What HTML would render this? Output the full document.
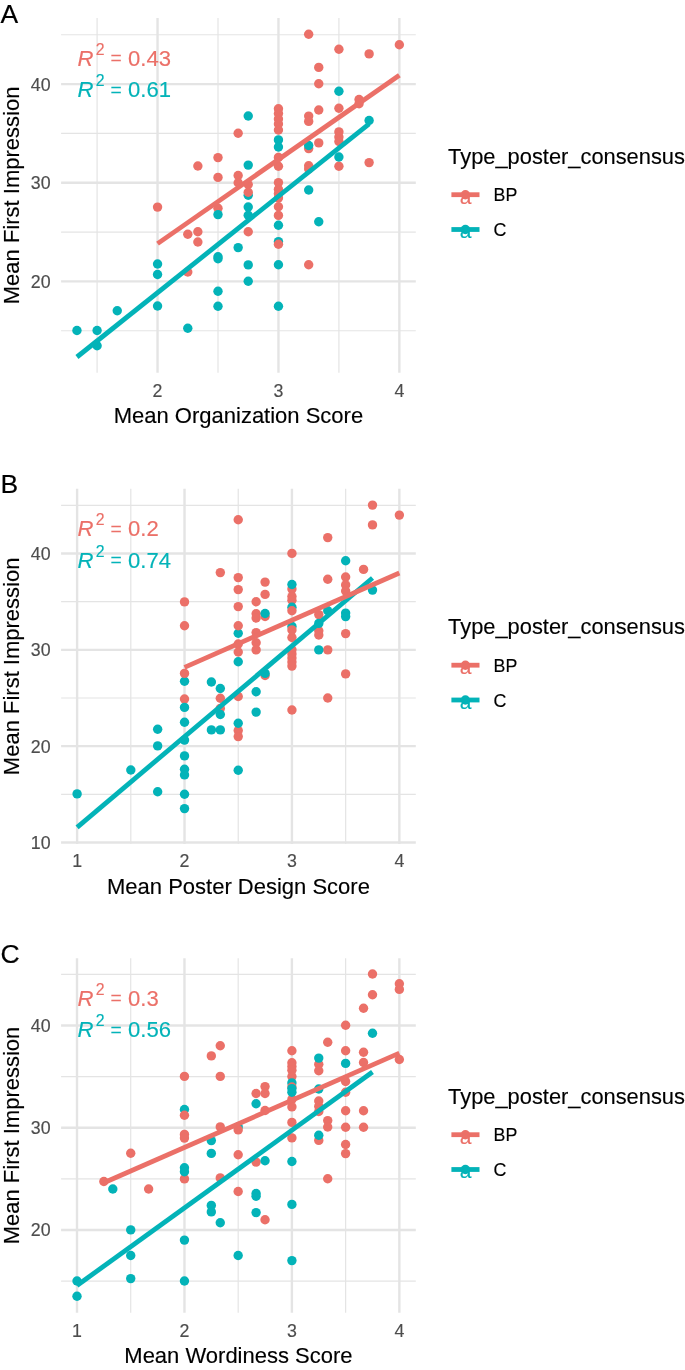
<!DOCTYPE html>
<html><head><meta charset="utf-8"><title>Mean First Impression plots</title>
<style>
html,body{margin:0;padding:0;background:#fff;}
body{width:685px;height:1370px;overflow:hidden;}
svg{display:block;}
text{font-family:'Liberation Sans', Arial, sans-serif;}
</style></head><body>
<svg width="685" height="1370" viewBox="0 0 685 1370">
<rect x="0" y="0" width="685" height="1370" fill="#ffffff"/>
<g><line x1="61.1" y1="330.73" x2="415.8" y2="330.73" stroke="#E4E4E4" stroke-width="1.2"/><line x1="61.1" y1="232.07" x2="415.8" y2="232.07" stroke="#E4E4E4" stroke-width="1.2"/><line x1="61.1" y1="133.43" x2="415.8" y2="133.43" stroke="#E4E4E4" stroke-width="1.2"/><line x1="61.1" y1="34.77" x2="415.8" y2="34.77" stroke="#E4E4E4" stroke-width="1.2"/><line x1="97.1" y1="18.1" x2="97.1" y2="372.7" stroke="#E4E4E4" stroke-width="1.2"/><line x1="218" y1="18.1" x2="218" y2="372.7" stroke="#E4E4E4" stroke-width="1.2"/><line x1="338.9" y1="18.1" x2="338.9" y2="372.7" stroke="#E4E4E4" stroke-width="1.2"/><line x1="61.1" y1="281.4" x2="415.8" y2="281.4" stroke="#E4E4E4" stroke-width="2.4"/><line x1="61.1" y1="182.75" x2="415.8" y2="182.75" stroke="#E4E4E4" stroke-width="2.4"/><line x1="61.1" y1="84.1" x2="415.8" y2="84.1" stroke="#E4E4E4" stroke-width="2.4"/><line x1="157.55" y1="18.1" x2="157.55" y2="372.7" stroke="#E4E4E4" stroke-width="2.4"/><line x1="278.45" y1="18.1" x2="278.45" y2="372.7" stroke="#E4E4E4" stroke-width="2.4"/><line x1="399.35" y1="18.1" x2="399.35" y2="372.7" stroke="#E4E4E4" stroke-width="2.4"/></g>
<g><circle cx="157.55" cy="207.1" r="4.7" fill="#EB7068"/><circle cx="187.78" cy="234.2" r="4.7" fill="#EB7068"/><circle cx="187.78" cy="272" r="4.7" fill="#EB7068"/><circle cx="197.85" cy="166" r="4.7" fill="#EB7068"/><circle cx="197.85" cy="231.7" r="4.7" fill="#EB7068"/><circle cx="197.85" cy="242" r="4.7" fill="#EB7068"/><circle cx="218" cy="157.6" r="4.7" fill="#EB7068"/><circle cx="218" cy="177.4" r="4.7" fill="#EB7068"/><circle cx="218" cy="208.2" r="4.7" fill="#EB7068"/><circle cx="238.15" cy="133.2" r="4.7" fill="#EB7068"/><circle cx="238.15" cy="175.5" r="4.7" fill="#EB7068"/><circle cx="238.15" cy="182.8" r="4.7" fill="#EB7068"/><circle cx="248.23" cy="184.5" r="4.7" fill="#EB7068"/><circle cx="248.23" cy="231.7" r="4.7" fill="#EB7068"/><circle cx="278.45" cy="108.7" r="4.7" fill="#EB7068"/><circle cx="278.45" cy="113.6" r="4.7" fill="#EB7068"/><circle cx="278.45" cy="119.1" r="4.7" fill="#EB7068"/><circle cx="278.45" cy="124" r="4.7" fill="#EB7068"/><circle cx="278.45" cy="130" r="4.7" fill="#EB7068"/><circle cx="278.45" cy="157.4" r="4.7" fill="#EB7068"/><circle cx="278.45" cy="166.2" r="4.7" fill="#EB7068"/><circle cx="278.45" cy="182.6" r="4.7" fill="#EB7068"/><circle cx="278.45" cy="189.2" r="4.7" fill="#EB7068"/><circle cx="278.45" cy="193.5" r="4.7" fill="#EB7068"/><circle cx="278.45" cy="197.9" r="4.7" fill="#EB7068"/><circle cx="278.45" cy="206.7" r="4.7" fill="#EB7068"/><circle cx="278.45" cy="215.4" r="4.7" fill="#EB7068"/><circle cx="308.68" cy="34.3" r="4.7" fill="#EB7068"/><circle cx="308.68" cy="116.1" r="4.7" fill="#EB7068"/><circle cx="308.68" cy="121.4" r="4.7" fill="#EB7068"/><circle cx="308.68" cy="148.6" r="4.7" fill="#EB7068"/><circle cx="308.68" cy="165.8" r="4.7" fill="#EB7068"/><circle cx="308.68" cy="169" r="4.7" fill="#EB7068"/><circle cx="308.68" cy="264.8" r="4.7" fill="#EB7068"/><circle cx="318.75" cy="67.4" r="4.7" fill="#EB7068"/><circle cx="318.75" cy="83.7" r="4.7" fill="#EB7068"/><circle cx="318.75" cy="110" r="4.7" fill="#EB7068"/><circle cx="318.75" cy="142.9" r="4.7" fill="#EB7068"/><circle cx="338.9" cy="49.2" r="4.7" fill="#EB7068"/><circle cx="338.9" cy="108.2" r="4.7" fill="#EB7068"/><circle cx="338.9" cy="131.9" r="4.7" fill="#EB7068"/><circle cx="338.9" cy="137.1" r="4.7" fill="#EB7068"/><circle cx="338.9" cy="141.5" r="4.7" fill="#EB7068"/><circle cx="338.9" cy="166.3" r="4.7" fill="#EB7068"/><circle cx="359.05" cy="99.5" r="4.7" fill="#EB7068"/><circle cx="359.05" cy="103.8" r="4.7" fill="#EB7068"/><circle cx="369.12" cy="53.9" r="4.7" fill="#EB7068"/><circle cx="369.12" cy="162.6" r="4.7" fill="#EB7068"/><circle cx="399.35" cy="44.7" r="4.7" fill="#EB7068"/><circle cx="76.95" cy="330.5" r="4.7" fill="#03B3B8"/><circle cx="97.1" cy="330.5" r="4.7" fill="#03B3B8"/><circle cx="97.1" cy="345.7" r="4.7" fill="#03B3B8"/><circle cx="117.25" cy="310.7" r="4.7" fill="#03B3B8"/><circle cx="157.55" cy="264" r="4.7" fill="#03B3B8"/><circle cx="157.55" cy="274.5" r="4.7" fill="#03B3B8"/><circle cx="157.55" cy="306" r="4.7" fill="#03B3B8"/><circle cx="187.78" cy="328.3" r="4.7" fill="#03B3B8"/><circle cx="218" cy="214.6" r="4.7" fill="#03B3B8"/><circle cx="218" cy="256.8" r="4.7" fill="#03B3B8"/><circle cx="218" cy="258.8" r="4.7" fill="#03B3B8"/><circle cx="218" cy="291.2" r="4.7" fill="#03B3B8"/><circle cx="218" cy="306.2" r="4.7" fill="#03B3B8"/><circle cx="238.15" cy="247.6" r="4.7" fill="#03B3B8"/><circle cx="248.23" cy="116" r="4.7" fill="#03B3B8"/><circle cx="248.23" cy="165.1" r="4.7" fill="#03B3B8"/><circle cx="248.23" cy="195.2" r="4.7" fill="#03B3B8"/><circle cx="248.23" cy="207" r="4.7" fill="#03B3B8"/><circle cx="248.23" cy="215.3" r="4.7" fill="#03B3B8"/><circle cx="248.23" cy="264.9" r="4.7" fill="#03B3B8"/><circle cx="248.23" cy="281.3" r="4.7" fill="#03B3B8"/><circle cx="278.45" cy="139.9" r="4.7" fill="#03B3B8"/><circle cx="278.45" cy="147" r="4.7" fill="#03B3B8"/><circle cx="278.45" cy="225.3" r="4.7" fill="#03B3B8"/><circle cx="278.45" cy="241.6" r="4.7" fill="#03B3B8"/><circle cx="278.45" cy="264.8" r="4.7" fill="#03B3B8"/><circle cx="278.45" cy="306.2" r="4.7" fill="#03B3B8"/><circle cx="308.68" cy="145.5" r="4.7" fill="#03B3B8"/><circle cx="308.68" cy="190" r="4.7" fill="#03B3B8"/><circle cx="318.75" cy="221.8" r="4.7" fill="#03B3B8"/><circle cx="338.9" cy="91.2" r="4.7" fill="#03B3B8"/><circle cx="338.9" cy="157" r="4.7" fill="#03B3B8"/><circle cx="369.12" cy="120.5" r="4.7" fill="#03B3B8"/><circle cx="278.45" cy="244.3" r="4.7" fill="#EB7068"/><circle cx="248.23" cy="192.3" r="4.7" fill="#EB7068"/></g>
<line x1="76.95" y1="357" x2="369.12" y2="123.9" stroke="#03B3B8" stroke-width="4.8" stroke-linecap="butt"/>
<line x1="157.55" y1="243.6" x2="399.35" y2="75.3" stroke="#EB7068" stroke-width="4.8" stroke-linecap="butt"/>
<text y="65.5" fill="#EB7068" font-size="22.1" stroke="#EB7068" stroke-width="0.15"><tspan x="77.6" font-style="italic">R</tspan><tspan x="95.7" y="54.8" font-size="15.8">2</tspan><tspan x="110.5" y="64.1" font-size="19.2">=</tspan><tspan x="128.0" y="65.5">0.43</tspan></text>
<text y="97.1" fill="#03B3B8" font-size="22.1" stroke="#03B3B8" stroke-width="0.15"><tspan x="77.6" font-style="italic">R</tspan><tspan x="95.7" y="86.4" font-size="15.8">2</tspan><tspan x="110.5" y="95.7" font-size="19.2">=</tspan><tspan x="128.0" y="97.1">0.61</tspan></text>
<text x="50.6" y="287.8" text-anchor="end" font-size="17.8" fill="#4D4D4D" stroke="#4D4D4D" stroke-width="0.15">20</text><text x="50.6" y="189.15" text-anchor="end" font-size="17.8" fill="#4D4D4D" stroke="#4D4D4D" stroke-width="0.15">30</text><text x="50.6" y="90.5" text-anchor="end" font-size="17.8" fill="#4D4D4D" stroke="#4D4D4D" stroke-width="0.15">40</text><text x="157.55" y="396.8" text-anchor="middle" font-size="17.8" fill="#4D4D4D" stroke="#4D4D4D" stroke-width="0.15">2</text><text x="278.45" y="396.8" text-anchor="middle" font-size="17.8" fill="#4D4D4D" stroke="#4D4D4D" stroke-width="0.15">3</text><text x="399.35" y="396.8" text-anchor="middle" font-size="17.8" fill="#4D4D4D" stroke="#4D4D4D" stroke-width="0.15">4</text>
<text x="238.45" y="423.1" text-anchor="middle" font-size="22.0" fill="#000" stroke="#000" stroke-width="0.15">Mean Organization Score</text>
<text transform="translate(19.05 195.4) rotate(-90)" text-anchor="middle" font-size="22.0" fill="#000" stroke="#000" stroke-width="0.15">Mean First Impression</text>
<text x="0.5" y="22.6" font-size="26.5" fill="#000" stroke="#000" stroke-width="0.15">A</text>
<text x="448.1" y="163.5" font-size="21.85" fill="#000" stroke="#000" stroke-width="0.15">Type_poster_consensus</text>
<line x1="451.4" y1="194.7" x2="479.5" y2="194.7" stroke="#EB7068" stroke-width="4.8"/><circle cx="465.4" cy="194.7" r="4.7" fill="#EB7068"/><text x="465.6" y="203.5" text-anchor="middle" font-size="21" fill="#EB7068" stroke="#EB7068" stroke-width="0.15">a</text><text x="493.6" y="201.2" font-size="17.8" fill="#000" stroke="#000" stroke-width="0.15">BP</text>
<line x1="451.4" y1="229.5" x2="479.5" y2="229.5" stroke="#03B3B8" stroke-width="4.8"/><circle cx="465.4" cy="229.5" r="4.7" fill="#03B3B8"/><text x="465.6" y="238.3" text-anchor="middle" font-size="21" fill="#03B3B8" stroke="#03B3B8" stroke-width="0.15">a</text><text x="493.6" y="236" font-size="17.8" fill="#000" stroke="#000" stroke-width="0.15">C</text>
<g><line x1="61.1" y1="794.33" x2="415.8" y2="794.33" stroke="#E4E4E4" stroke-width="1.2"/><line x1="61.1" y1="698" x2="415.8" y2="698" stroke="#E4E4E4" stroke-width="1.2"/><line x1="61.1" y1="601.66" x2="415.8" y2="601.66" stroke="#E4E4E4" stroke-width="1.2"/><line x1="61.1" y1="505.34" x2="415.8" y2="505.34" stroke="#E4E4E4" stroke-width="1.2"/><line x1="130.81" y1="488.8" x2="130.81" y2="843.9" stroke="#E4E4E4" stroke-width="1.2"/><line x1="238.23" y1="488.8" x2="238.23" y2="843.9" stroke="#E4E4E4" stroke-width="1.2"/><line x1="345.65" y1="488.8" x2="345.65" y2="843.9" stroke="#E4E4E4" stroke-width="1.2"/><line x1="61.1" y1="842.49" x2="415.8" y2="842.49" stroke="#E4E4E4" stroke-width="2.4"/><line x1="61.1" y1="746.16" x2="415.8" y2="746.16" stroke="#E4E4E4" stroke-width="2.4"/><line x1="61.1" y1="649.83" x2="415.8" y2="649.83" stroke="#E4E4E4" stroke-width="2.4"/><line x1="61.1" y1="553.5" x2="415.8" y2="553.5" stroke="#E4E4E4" stroke-width="2.4"/><line x1="77.1" y1="488.8" x2="77.1" y2="843.9" stroke="#E4E4E4" stroke-width="2.4"/><line x1="184.52" y1="488.8" x2="184.52" y2="843.9" stroke="#E4E4E4" stroke-width="2.4"/><line x1="291.94" y1="488.8" x2="291.94" y2="843.9" stroke="#E4E4E4" stroke-width="2.4"/><line x1="399.36" y1="488.8" x2="399.36" y2="843.9" stroke="#E4E4E4" stroke-width="2.4"/></g>
<g><circle cx="184.52" cy="601.9" r="4.7" fill="#EB7068"/><circle cx="184.52" cy="625.8" r="4.7" fill="#EB7068"/><circle cx="184.52" cy="699" r="4.7" fill="#EB7068"/><circle cx="220.32" cy="572.6" r="4.7" fill="#EB7068"/><circle cx="220.32" cy="698.2" r="4.7" fill="#EB7068"/><circle cx="220.32" cy="708.4" r="4.7" fill="#EB7068"/><circle cx="238.23" cy="519.7" r="4.7" fill="#EB7068"/><circle cx="238.23" cy="577.6" r="4.7" fill="#EB7068"/><circle cx="238.23" cy="589.6" r="4.7" fill="#EB7068"/><circle cx="238.23" cy="606.6" r="4.7" fill="#EB7068"/><circle cx="238.23" cy="644" r="4.7" fill="#EB7068"/><circle cx="238.23" cy="652" r="4.7" fill="#EB7068"/><circle cx="238.23" cy="696.5" r="4.7" fill="#EB7068"/><circle cx="238.23" cy="730.5" r="4.7" fill="#EB7068"/><circle cx="238.23" cy="736.6" r="4.7" fill="#EB7068"/><circle cx="256.14" cy="601.7" r="4.7" fill="#EB7068"/><circle cx="256.14" cy="613.7" r="4.7" fill="#EB7068"/><circle cx="256.14" cy="618" r="4.7" fill="#EB7068"/><circle cx="256.14" cy="632.6" r="4.7" fill="#EB7068"/><circle cx="256.14" cy="642.8" r="4.7" fill="#EB7068"/><circle cx="256.14" cy="649.9" r="4.7" fill="#EB7068"/><circle cx="265.09" cy="582.1" r="4.7" fill="#EB7068"/><circle cx="265.09" cy="594.4" r="4.7" fill="#EB7068"/><circle cx="265.09" cy="616.5" r="4.7" fill="#EB7068"/><circle cx="265.09" cy="675.5" r="4.7" fill="#EB7068"/><circle cx="291.94" cy="553.4" r="4.7" fill="#EB7068"/><circle cx="291.94" cy="589.1" r="4.7" fill="#EB7068"/><circle cx="291.94" cy="596.6" r="4.7" fill="#EB7068"/><circle cx="291.94" cy="600.3" r="4.7" fill="#EB7068"/><circle cx="291.94" cy="637.5" r="4.7" fill="#EB7068"/><circle cx="291.94" cy="649.8" r="4.7" fill="#EB7068"/><circle cx="291.94" cy="653.9" r="4.7" fill="#EB7068"/><circle cx="291.94" cy="658" r="4.7" fill="#EB7068"/><circle cx="291.94" cy="662" r="4.7" fill="#EB7068"/><circle cx="291.94" cy="666.1" r="4.7" fill="#EB7068"/><circle cx="291.94" cy="710" r="4.7" fill="#EB7068"/><circle cx="318.79" cy="614.6" r="4.7" fill="#EB7068"/><circle cx="318.79" cy="630.7" r="4.7" fill="#EB7068"/><circle cx="318.79" cy="635" r="4.7" fill="#EB7068"/><circle cx="327.74" cy="537.6" r="4.7" fill="#EB7068"/><circle cx="327.74" cy="579.2" r="4.7" fill="#EB7068"/><circle cx="327.74" cy="649.9" r="4.7" fill="#EB7068"/><circle cx="327.74" cy="698" r="4.7" fill="#EB7068"/><circle cx="345.65" cy="577" r="4.7" fill="#EB7068"/><circle cx="345.65" cy="584.9" r="4.7" fill="#EB7068"/><circle cx="345.65" cy="591" r="4.7" fill="#EB7068"/><circle cx="345.65" cy="633.6" r="4.7" fill="#EB7068"/><circle cx="345.65" cy="673.9" r="4.7" fill="#EB7068"/><circle cx="363.56" cy="569.4" r="4.7" fill="#EB7068"/><circle cx="372.5" cy="505.1" r="4.7" fill="#EB7068"/><circle cx="372.5" cy="524.9" r="4.7" fill="#EB7068"/><circle cx="399.36" cy="515.1" r="4.7" fill="#EB7068"/><circle cx="77.1" cy="793.9" r="4.7" fill="#03B3B8"/><circle cx="130.81" cy="770" r="4.7" fill="#03B3B8"/><circle cx="157.66" cy="729.3" r="4.7" fill="#03B3B8"/><circle cx="157.66" cy="745.9" r="4.7" fill="#03B3B8"/><circle cx="157.66" cy="791.8" r="4.7" fill="#03B3B8"/><circle cx="184.52" cy="681.3" r="4.7" fill="#03B3B8"/><circle cx="184.52" cy="707.4" r="4.7" fill="#03B3B8"/><circle cx="184.52" cy="722.2" r="4.7" fill="#03B3B8"/><circle cx="184.52" cy="740.1" r="4.7" fill="#03B3B8"/><circle cx="184.52" cy="755.9" r="4.7" fill="#03B3B8"/><circle cx="184.52" cy="769.2" r="4.7" fill="#03B3B8"/><circle cx="184.52" cy="774.9" r="4.7" fill="#03B3B8"/><circle cx="184.52" cy="794.3" r="4.7" fill="#03B3B8"/><circle cx="184.52" cy="808.6" r="4.7" fill="#03B3B8"/><circle cx="211.38" cy="682" r="4.7" fill="#03B3B8"/><circle cx="211.38" cy="729.9" r="4.7" fill="#03B3B8"/><circle cx="220.32" cy="688.5" r="4.7" fill="#03B3B8"/><circle cx="220.32" cy="714.5" r="4.7" fill="#03B3B8"/><circle cx="220.32" cy="729.9" r="4.7" fill="#03B3B8"/><circle cx="238.23" cy="633.2" r="4.7" fill="#03B3B8"/><circle cx="238.23" cy="661.8" r="4.7" fill="#03B3B8"/><circle cx="238.23" cy="723.3" r="4.7" fill="#03B3B8"/><circle cx="238.23" cy="770.3" r="4.7" fill="#03B3B8"/><circle cx="256.14" cy="691.7" r="4.7" fill="#03B3B8"/><circle cx="256.14" cy="712.1" r="4.7" fill="#03B3B8"/><circle cx="265.09" cy="613.5" r="4.7" fill="#03B3B8"/><circle cx="265.09" cy="673.4" r="4.7" fill="#03B3B8"/><circle cx="291.94" cy="584.5" r="4.7" fill="#03B3B8"/><circle cx="291.94" cy="607.2" r="4.7" fill="#03B3B8"/><circle cx="291.94" cy="626.4" r="4.7" fill="#03B3B8"/><circle cx="318.79" cy="623.4" r="4.7" fill="#03B3B8"/><circle cx="318.79" cy="649.9" r="4.7" fill="#03B3B8"/><circle cx="327.74" cy="610.8" r="4.7" fill="#03B3B8"/><circle cx="345.65" cy="560.7" r="4.7" fill="#03B3B8"/><circle cx="345.65" cy="613.1" r="4.7" fill="#03B3B8"/><circle cx="345.65" cy="616.6" r="4.7" fill="#03B3B8"/><circle cx="372.5" cy="590.1" r="4.7" fill="#03B3B8"/><circle cx="291.94" cy="610.7" r="4.7" fill="#EB7068"/><circle cx="291.94" cy="629.9" r="4.7" fill="#EB7068"/><circle cx="238.23" cy="625.8" r="4.7" fill="#EB7068"/><circle cx="184.52" cy="673.4" r="4.7" fill="#EB7068"/></g>
<line x1="77.1" y1="827.3" x2="372.5" y2="578" stroke="#03B3B8" stroke-width="4.8" stroke-linecap="butt"/>
<line x1="184.52" y1="667.4" x2="399.36" y2="573" stroke="#EB7068" stroke-width="4.8" stroke-linecap="butt"/>
<text y="536" fill="#EB7068" font-size="22.1" stroke="#EB7068" stroke-width="0.15"><tspan x="77.6" font-style="italic">R</tspan><tspan x="95.7" y="525.3" font-size="15.8">2</tspan><tspan x="110.5" y="534.6" font-size="19.2">=</tspan><tspan x="128.0" y="536">0.2</tspan></text>
<text y="567.6" fill="#03B3B8" font-size="22.1" stroke="#03B3B8" stroke-width="0.15"><tspan x="77.6" font-style="italic">R</tspan><tspan x="95.7" y="556.9" font-size="15.8">2</tspan><tspan x="110.5" y="566.2" font-size="19.2">=</tspan><tspan x="128.0" y="567.6">0.74</tspan></text>
<text x="50.6" y="848.89" text-anchor="end" font-size="17.8" fill="#4D4D4D" stroke="#4D4D4D" stroke-width="0.15">10</text><text x="50.6" y="752.56" text-anchor="end" font-size="17.8" fill="#4D4D4D" stroke="#4D4D4D" stroke-width="0.15">20</text><text x="50.6" y="656.23" text-anchor="end" font-size="17.8" fill="#4D4D4D" stroke="#4D4D4D" stroke-width="0.15">30</text><text x="50.6" y="559.9" text-anchor="end" font-size="17.8" fill="#4D4D4D" stroke="#4D4D4D" stroke-width="0.15">40</text><text x="77.1" y="867.3" text-anchor="middle" font-size="17.8" fill="#4D4D4D" stroke="#4D4D4D" stroke-width="0.15">1</text><text x="184.52" y="867.3" text-anchor="middle" font-size="17.8" fill="#4D4D4D" stroke="#4D4D4D" stroke-width="0.15">2</text><text x="291.94" y="867.3" text-anchor="middle" font-size="17.8" fill="#4D4D4D" stroke="#4D4D4D" stroke-width="0.15">3</text><text x="399.36" y="867.3" text-anchor="middle" font-size="17.8" fill="#4D4D4D" stroke="#4D4D4D" stroke-width="0.15">4</text>
<text x="238.45" y="893.6" text-anchor="middle" font-size="22.0" fill="#000" stroke="#000" stroke-width="0.15">Mean Poster Design Score</text>
<text transform="translate(19.05 666.35) rotate(-90)" text-anchor="middle" font-size="22.0" fill="#000" stroke="#000" stroke-width="0.15">Mean First Impression</text>
<text x="0.5" y="493.1" font-size="26.5" fill="#000" stroke="#000" stroke-width="0.15">B</text>
<text x="448.1" y="634" font-size="21.85" fill="#000" stroke="#000" stroke-width="0.15">Type_poster_consensus</text>
<line x1="451.4" y1="665.2" x2="479.5" y2="665.2" stroke="#EB7068" stroke-width="4.8"/><circle cx="465.4" cy="665.2" r="4.7" fill="#EB7068"/><text x="465.6" y="674" text-anchor="middle" font-size="21" fill="#EB7068" stroke="#EB7068" stroke-width="0.15">a</text><text x="493.6" y="671.7" font-size="17.8" fill="#000" stroke="#000" stroke-width="0.15">BP</text>
<line x1="451.4" y1="700" x2="479.5" y2="700" stroke="#03B3B8" stroke-width="4.8"/><circle cx="465.4" cy="700" r="4.7" fill="#03B3B8"/><text x="465.6" y="708.8" text-anchor="middle" font-size="21" fill="#03B3B8" stroke="#03B3B8" stroke-width="0.15">a</text><text x="493.6" y="706.5" font-size="17.8" fill="#000" stroke="#000" stroke-width="0.15">C</text>
<g><line x1="61.1" y1="1281.12" x2="415.8" y2="1281.12" stroke="#E4E4E4" stroke-width="1.2"/><line x1="61.1" y1="1178.88" x2="415.8" y2="1178.88" stroke="#E4E4E4" stroke-width="1.2"/><line x1="61.1" y1="1076.62" x2="415.8" y2="1076.62" stroke="#E4E4E4" stroke-width="1.2"/><line x1="61.1" y1="974.38" x2="415.8" y2="974.38" stroke="#E4E4E4" stroke-width="1.2"/><line x1="130.72" y1="958.2" x2="130.72" y2="1312.8" stroke="#E4E4E4" stroke-width="1.2"/><line x1="238.18" y1="958.2" x2="238.18" y2="1312.8" stroke="#E4E4E4" stroke-width="1.2"/><line x1="345.62" y1="958.2" x2="345.62" y2="1312.8" stroke="#E4E4E4" stroke-width="1.2"/><line x1="61.1" y1="1230" x2="415.8" y2="1230" stroke="#E4E4E4" stroke-width="2.4"/><line x1="61.1" y1="1127.75" x2="415.8" y2="1127.75" stroke="#E4E4E4" stroke-width="2.4"/><line x1="61.1" y1="1025.5" x2="415.8" y2="1025.5" stroke="#E4E4E4" stroke-width="2.4"/><line x1="77" y1="958.2" x2="77" y2="1312.8" stroke="#E4E4E4" stroke-width="2.4"/><line x1="184.45" y1="958.2" x2="184.45" y2="1312.8" stroke="#E4E4E4" stroke-width="2.4"/><line x1="291.9" y1="958.2" x2="291.9" y2="1312.8" stroke="#E4E4E4" stroke-width="2.4"/><line x1="399.35" y1="958.2" x2="399.35" y2="1312.8" stroke="#E4E4E4" stroke-width="2.4"/></g>
<g><circle cx="103.86" cy="1181.5" r="4.7" fill="#EB7068"/><circle cx="130.72" cy="1153.3" r="4.7" fill="#EB7068"/><circle cx="148.64" cy="1189" r="4.7" fill="#EB7068"/><circle cx="184.45" cy="1076.4" r="4.7" fill="#EB7068"/><circle cx="184.45" cy="1134.4" r="4.7" fill="#EB7068"/><circle cx="184.45" cy="1138.1" r="4.7" fill="#EB7068"/><circle cx="184.45" cy="1178.9" r="4.7" fill="#EB7068"/><circle cx="211.31" cy="1055.9" r="4.7" fill="#EB7068"/><circle cx="220.26" cy="1045.7" r="4.7" fill="#EB7068"/><circle cx="220.26" cy="1076.4" r="4.7" fill="#EB7068"/><circle cx="220.26" cy="1126.9" r="4.7" fill="#EB7068"/><circle cx="220.26" cy="1177.9" r="4.7" fill="#EB7068"/><circle cx="238.18" cy="1154.8" r="4.7" fill="#EB7068"/><circle cx="238.18" cy="1191.5" r="4.7" fill="#EB7068"/><circle cx="256.09" cy="1093.5" r="4.7" fill="#EB7068"/><circle cx="256.09" cy="1162.1" r="4.7" fill="#EB7068"/><circle cx="265.04" cy="1086.6" r="4.7" fill="#EB7068"/><circle cx="265.04" cy="1093.5" r="4.7" fill="#EB7068"/><circle cx="265.04" cy="1110.5" r="4.7" fill="#EB7068"/><circle cx="265.04" cy="1219.7" r="4.7" fill="#EB7068"/><circle cx="291.9" cy="1050.8" r="4.7" fill="#EB7068"/><circle cx="291.9" cy="1062.8" r="4.7" fill="#EB7068"/><circle cx="291.9" cy="1066.5" r="4.7" fill="#EB7068"/><circle cx="291.9" cy="1070.3" r="4.7" fill="#EB7068"/><circle cx="291.9" cy="1076.5" r="4.7" fill="#EB7068"/><circle cx="291.9" cy="1099.4" r="4.7" fill="#EB7068"/><circle cx="291.9" cy="1106.9" r="4.7" fill="#EB7068"/><circle cx="291.9" cy="1122.4" r="4.7" fill="#EB7068"/><circle cx="291.9" cy="1137.9" r="4.7" fill="#EB7068"/><circle cx="318.76" cy="1064.2" r="4.7" fill="#EB7068"/><circle cx="318.76" cy="1070.7" r="4.7" fill="#EB7068"/><circle cx="318.76" cy="1101" r="4.7" fill="#EB7068"/><circle cx="318.76" cy="1106.3" r="4.7" fill="#EB7068"/><circle cx="318.76" cy="1111.5" r="4.7" fill="#EB7068"/><circle cx="318.76" cy="1140.4" r="4.7" fill="#EB7068"/><circle cx="327.71" cy="1042.3" r="4.7" fill="#EB7068"/><circle cx="327.71" cy="1120.6" r="4.7" fill="#EB7068"/><circle cx="327.71" cy="1127" r="4.7" fill="#EB7068"/><circle cx="327.71" cy="1178.7" r="4.7" fill="#EB7068"/><circle cx="345.62" cy="1025.2" r="4.7" fill="#EB7068"/><circle cx="345.62" cy="1050.7" r="4.7" fill="#EB7068"/><circle cx="345.62" cy="1081.5" r="4.7" fill="#EB7068"/><circle cx="345.62" cy="1092.3" r="4.7" fill="#EB7068"/><circle cx="345.62" cy="1110.7" r="4.7" fill="#EB7068"/><circle cx="345.62" cy="1127.3" r="4.7" fill="#EB7068"/><circle cx="345.62" cy="1144.5" r="4.7" fill="#EB7068"/><circle cx="345.62" cy="1153.6" r="4.7" fill="#EB7068"/><circle cx="363.54" cy="1008.2" r="4.7" fill="#EB7068"/><circle cx="363.54" cy="1052.3" r="4.7" fill="#EB7068"/><circle cx="363.54" cy="1062.5" r="4.7" fill="#EB7068"/><circle cx="363.54" cy="1110.7" r="4.7" fill="#EB7068"/><circle cx="363.54" cy="1127.3" r="4.7" fill="#EB7068"/><circle cx="372.49" cy="974" r="4.7" fill="#EB7068"/><circle cx="372.49" cy="994.7" r="4.7" fill="#EB7068"/><circle cx="399.35" cy="983.7" r="4.7" fill="#EB7068"/><circle cx="399.35" cy="989.4" r="4.7" fill="#EB7068"/><circle cx="399.35" cy="1059.5" r="4.7" fill="#EB7068"/><circle cx="77" cy="1281" r="4.7" fill="#03B3B8"/><circle cx="77" cy="1296.3" r="4.7" fill="#03B3B8"/><circle cx="112.81" cy="1189" r="4.7" fill="#03B3B8"/><circle cx="130.72" cy="1229.9" r="4.7" fill="#03B3B8"/><circle cx="130.72" cy="1255.5" r="4.7" fill="#03B3B8"/><circle cx="130.72" cy="1278.6" r="4.7" fill="#03B3B8"/><circle cx="184.45" cy="1109.5" r="4.7" fill="#03B3B8"/><circle cx="184.45" cy="1167.7" r="4.7" fill="#03B3B8"/><circle cx="184.45" cy="1171.8" r="4.7" fill="#03B3B8"/><circle cx="184.45" cy="1240.1" r="4.7" fill="#03B3B8"/><circle cx="184.45" cy="1281" r="4.7" fill="#03B3B8"/><circle cx="211.31" cy="1140.6" r="4.7" fill="#03B3B8"/><circle cx="211.31" cy="1153.4" r="4.7" fill="#03B3B8"/><circle cx="211.31" cy="1205.4" r="4.7" fill="#03B3B8"/><circle cx="211.31" cy="1211.9" r="4.7" fill="#03B3B8"/><circle cx="220.26" cy="1222.8" r="4.7" fill="#03B3B8"/><circle cx="238.18" cy="1126.9" r="4.7" fill="#03B3B8"/><circle cx="238.18" cy="1255.5" r="4.7" fill="#03B3B8"/><circle cx="256.09" cy="1103.8" r="4.7" fill="#03B3B8"/><circle cx="256.09" cy="1193.5" r="4.7" fill="#03B3B8"/><circle cx="256.09" cy="1196.2" r="4.7" fill="#03B3B8"/><circle cx="256.09" cy="1212.6" r="4.7" fill="#03B3B8"/><circle cx="265.04" cy="1160.8" r="4.7" fill="#03B3B8"/><circle cx="291.9" cy="1082.9" r="4.7" fill="#03B3B8"/><circle cx="291.9" cy="1161.5" r="4.7" fill="#03B3B8"/><circle cx="291.9" cy="1204.4" r="4.7" fill="#03B3B8"/><circle cx="291.9" cy="1260.6" r="4.7" fill="#03B3B8"/><circle cx="318.76" cy="1058.1" r="4.7" fill="#03B3B8"/><circle cx="318.76" cy="1089" r="4.7" fill="#03B3B8"/><circle cx="318.76" cy="1135.2" r="4.7" fill="#03B3B8"/><circle cx="345.62" cy="1063.4" r="4.7" fill="#03B3B8"/><circle cx="372.49" cy="1033.2" r="4.7" fill="#03B3B8"/><circle cx="184.45" cy="1115.2" r="4.7" fill="#EB7068"/><circle cx="238.18" cy="1129.9" r="4.7" fill="#EB7068"/><circle cx="291.9" cy="1087" r="4.7" fill="#EB7068"/><circle cx="291.9" cy="1088.6" r="4.7" fill="#03B3B8"/><circle cx="291.9" cy="1092.3" r="4.7" fill="#03B3B8"/></g>
<line x1="77" y1="1285.5" x2="372.49" y2="1072" stroke="#03B3B8" stroke-width="4.8" stroke-linecap="butt"/>
<line x1="103.86" y1="1182.8" x2="399.35" y2="1053.1" stroke="#EB7068" stroke-width="4.8" stroke-linecap="butt"/>
<text y="1005.5" fill="#EB7068" font-size="22.1" stroke="#EB7068" stroke-width="0.15"><tspan x="77.6" font-style="italic">R</tspan><tspan x="95.7" y="994.8" font-size="15.8">2</tspan><tspan x="110.5" y="1004.1" font-size="19.2">=</tspan><tspan x="128.0" y="1005.5">0.3</tspan></text>
<text y="1037.1" fill="#03B3B8" font-size="22.1" stroke="#03B3B8" stroke-width="0.15"><tspan x="77.6" font-style="italic">R</tspan><tspan x="95.7" y="1026.4" font-size="15.8">2</tspan><tspan x="110.5" y="1035.7" font-size="19.2">=</tspan><tspan x="128.0" y="1037.1">0.56</tspan></text>
<text x="50.6" y="1236.4" text-anchor="end" font-size="17.8" fill="#4D4D4D" stroke="#4D4D4D" stroke-width="0.15">20</text><text x="50.6" y="1134.15" text-anchor="end" font-size="17.8" fill="#4D4D4D" stroke="#4D4D4D" stroke-width="0.15">30</text><text x="50.6" y="1031.9" text-anchor="end" font-size="17.8" fill="#4D4D4D" stroke="#4D4D4D" stroke-width="0.15">40</text><text x="77" y="1336.8" text-anchor="middle" font-size="17.8" fill="#4D4D4D" stroke="#4D4D4D" stroke-width="0.15">1</text><text x="184.45" y="1336.8" text-anchor="middle" font-size="17.8" fill="#4D4D4D" stroke="#4D4D4D" stroke-width="0.15">2</text><text x="291.9" y="1336.8" text-anchor="middle" font-size="17.8" fill="#4D4D4D" stroke="#4D4D4D" stroke-width="0.15">3</text><text x="399.35" y="1336.8" text-anchor="middle" font-size="17.8" fill="#4D4D4D" stroke="#4D4D4D" stroke-width="0.15">4</text>
<text x="238.45" y="1363.1" text-anchor="middle" font-size="22.0" fill="#000" stroke="#000" stroke-width="0.15">Mean Wordiness Score</text>
<text transform="translate(19.05 1135.5) rotate(-90)" text-anchor="middle" font-size="22.0" fill="#000" stroke="#000" stroke-width="0.15">Mean First Impression</text>
<text x="0.5" y="962.6" font-size="26.5" fill="#000" stroke="#000" stroke-width="0.15">C</text>
<text x="448.1" y="1103.5" font-size="21.85" fill="#000" stroke="#000" stroke-width="0.15">Type_poster_consensus</text>
<line x1="451.4" y1="1134.7" x2="479.5" y2="1134.7" stroke="#EB7068" stroke-width="4.8"/><circle cx="465.4" cy="1134.7" r="4.7" fill="#EB7068"/><text x="465.6" y="1143.5" text-anchor="middle" font-size="21" fill="#EB7068" stroke="#EB7068" stroke-width="0.15">a</text><text x="493.6" y="1141.2" font-size="17.8" fill="#000" stroke="#000" stroke-width="0.15">BP</text>
<line x1="451.4" y1="1169.5" x2="479.5" y2="1169.5" stroke="#03B3B8" stroke-width="4.8"/><circle cx="465.4" cy="1169.5" r="4.7" fill="#03B3B8"/><text x="465.6" y="1178.3" text-anchor="middle" font-size="21" fill="#03B3B8" stroke="#03B3B8" stroke-width="0.15">a</text><text x="493.6" y="1176" font-size="17.8" fill="#000" stroke="#000" stroke-width="0.15">C</text>
</svg>
</body></html>
